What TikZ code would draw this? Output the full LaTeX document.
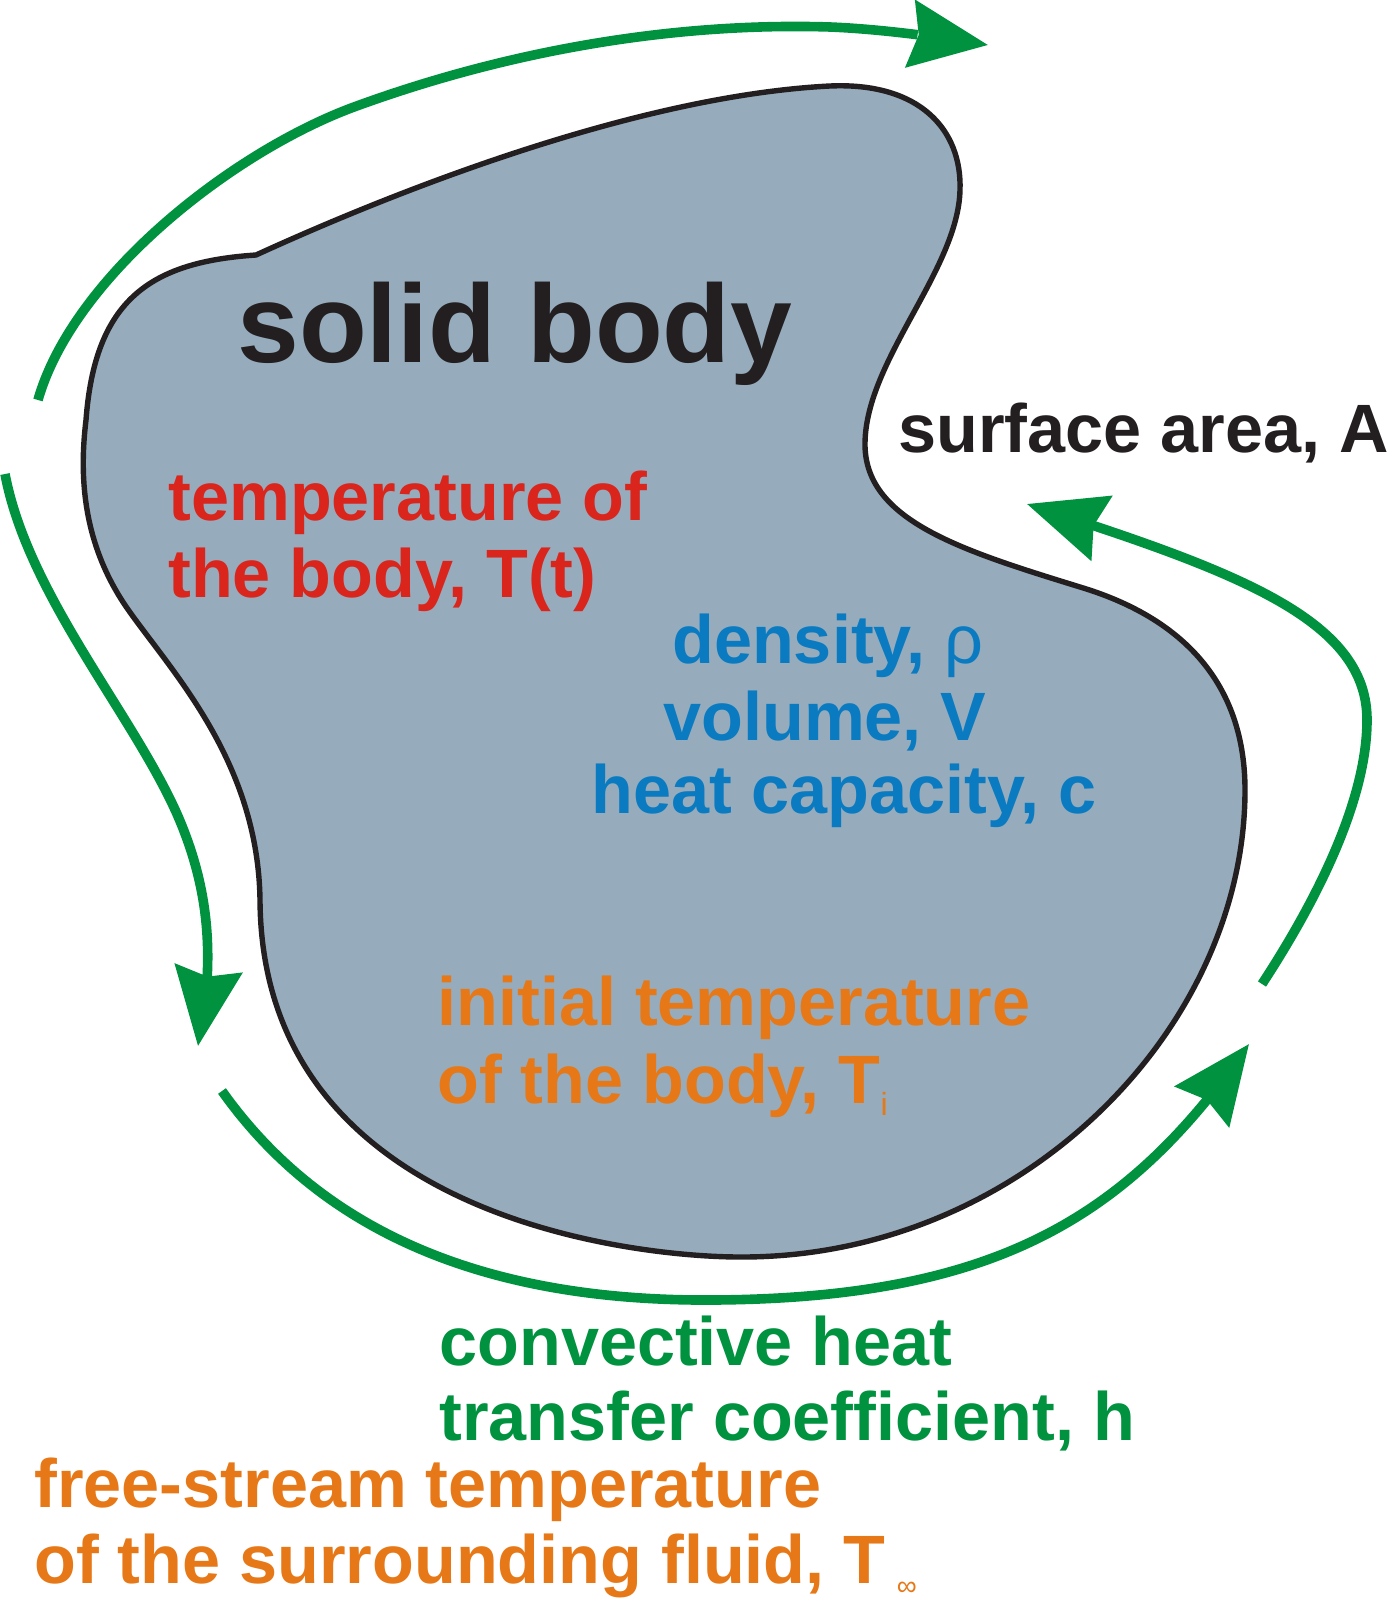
\documentclass[tikz,border=0pt]{standalone}
\usepackage{fontspec}
\setmainfont{Liberation Sans}
\usetikzlibrary{arrows.meta,bending}
\definecolor{blobfill}{HTML}{96ACBD}
\definecolor{flowgreen}{HTML}{00923F}
\definecolor{tred}{HTML}{DA251D}
\definecolor{tblue}{HTML}{0B7BC1}
\definecolor{torange}{HTML}{E77817}
\definecolor{tblack}{HTML}{231F20}
\begin{document}
\begin{tikzpicture}[x=0.5pt,y=-0.5pt,
  flow/.style={draw=flowgreen, line width=4.8pt,
    -{Stealth[length=39pt,width=33.5pt,inset=4pt,flex]}},
  body/.style={fill=blobfill, draw=tblack, line width=2.7pt, line join=miter},
  lbl/.style={inner sep=0pt, anchor=base west,
    font=\fontsize{34.2pt}{38pt}\selectfont\bfseries},
  clbl/.style={lbl, anchor=base}]
\useasboundingbox (0,0) rectangle (1391,1600);

% solid body outline
\draw[body] (256,255)
  .. controls (420,180) and (650,95) .. (830,86)
  .. controls (920,82) and (962,130) .. (960,190)
  .. controls (958,270) and (866,360) .. (865,443)
  .. controls (864,520) and (960,550) .. (1080,587)
  .. controls (1190,620) and (1245,690) .. (1245,790)
  .. controls (1245,1030) and (1020,1258) .. (740,1257)
  .. controls (640,1257) and (262,1220) .. (260,900)
  .. controls (258,760) and (170,670) .. (127,608)
  .. controls (80,540) and (80,470) .. (86,420)
  .. controls (95,300) and (150,262) .. (256,255) -- cycle;

% flow arrows
\coordinate (a1s) at (38,400);   \coordinate (a1e) at (988,45);
\coordinate (a2s) at (5,474);    \coordinate (a2e) at (198,1046);
\coordinate (a3s) at (222,1091); \coordinate (a3e) at (1249,1044);
\coordinate (a4s) at (1262,984); \coordinate (a4e) at (1027,504);

\draw[flow] (a1s) .. controls (73,277) and (232,152) .. (354,107)
  .. controls (504,52) and (670,22) .. (830,27)
  .. controls (880,29) and (940,37) .. (a1e);
\draw[flow] (a2s) .. controls (28,595) and (132,713) .. (177,814)
  .. controls (209,887) and (216,958) .. (a2e);
\draw[flow] (a3s) .. controls (310,1215) and (460,1302) .. (714,1300)
  .. controls (1000,1298) and (1130,1215) .. (a3e);
\draw[flow] (a4s) .. controls (1317,900) and (1367,800) .. (1367,720)
  .. controls (1367,620) and (1240,572) .. (a4e);

% labels
\node[lbl, text=tblack, font=\fontsize{55.5pt}{60pt}\selectfont\bfseries]
  (solid) at (237,362) {solid body};
\node[lbl, text=tblack] (area) at (898,452) {surface area, A};

\node[lbl, text=tred] (temp1) at (168,520) {temperature of};
\node[lbl, text=tred] (temp2) at (168,597) {the body, T(t)};

\node[clbl, text=tblue] (dens) at (828,663) {density, {\mdseries ρ}};
\node[clbl, text=tblue] (vol) at (825,740) {volume, V};
\node[clbl, text=tblue] (heat) at (844,813) {heat capacity, c};

\node[lbl, text=torange] (init1) at (437,1025) {initial temperature};
\node[lbl, text=torange] (init2) at (437,1103)
  {of the body, T\raisebox{-6pt}{\fontsize{16pt}{16pt}\selectfont\mdseries i}};

\node[lbl, text=flowgreen] (conv1) at (439,1365) {convective heat};
\node[lbl, text=flowgreen] (conv2) at (439,1440) {transfer coefficient, h};

\node[lbl, text=torange] (free1) at (34,1507) {free-stream temperature};
\node[lbl, text=torange] (free2) at (34,1583)
  {of the surrounding fluid, T\,\raisebox{-6pt}{\fontsize{14pt}{14pt}\selectfont\mdseries ∞}};
\end{tikzpicture}
\end{document}
